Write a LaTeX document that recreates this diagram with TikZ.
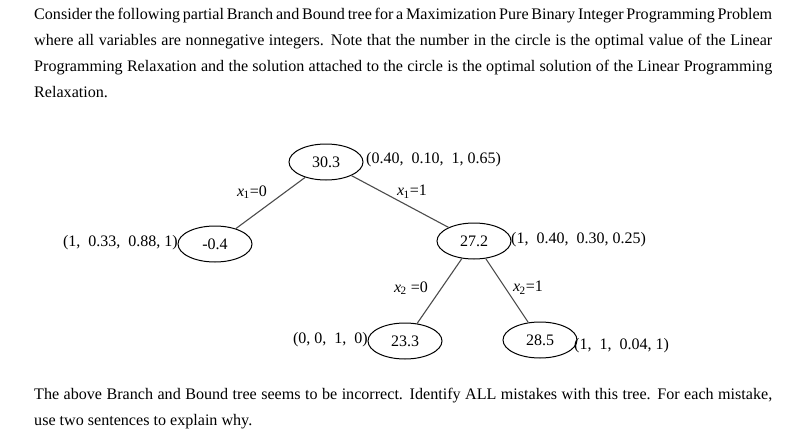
\documentclass[tikz,border=0pt]{standalone}
\usepackage{fontspec}
\setmainfont{Liberation Serif}
\usetikzlibrary{shapes.geometric}
\newcommand{\xv}[2]{\textit{x}\textsubscript{\kern-0.5pt#1}#2}
\begin{document}
\begin{tikzpicture}[x=1pt,y=-1pt,
  nd/.style={draw,ellipse,minimum width=74,minimum height=36,inner sep=0,font=\fontsize{16}{18}\selectfont,line width=1pt},
  lb/.style={font=\fontsize{16}{18}\selectfont,inner sep=0},
  ed/.style={line width=1.1pt,draw=black!70},
  para/.style={font=\fontsize{16.1}{26}\selectfont,text width=738,align=justify,inner sep=0,anchor=north west}]
\useasboundingbox[fill=white] (0,0) rectangle (803,436);
\node[para] (t1) at (34,8) {Consider the following partial Branch and Bound tree for a Maximization Pure Binary Integer Programming Problem where all variables are nonnegative integers. Note that the number in the circle is the optimal value of the Linear Programming Relaxation and the solution attached to the circle is the optimal solution of the Linear Programming Relaxation.};
\node[nd] (r) at (326,162) {30.3};
\node[nd] (a) at (215,244) {-0.4};
\node[nd] (b) at (474,241) {27.2};
\node[nd] (c) at (405,341) {23.3};
\node[nd] (d) at (540,340) {28.5};
\draw[ed] (r) -- (a);
\draw[ed] (r) -- (b);
\draw[ed] (b) -- (c);
\draw[ed] (b) -- (d);
\node[lb,anchor=west] (lr) at (366,160) {(0.40,\ \ 0.10,\ \ 1, 0.65)};
\node[lb,anchor=east] (la) at (178,243) {(1,\ \ 0.33,\ \ 0.88,\ 1)};
\node[lb,anchor=west] (lbb) at (511,240) {(1,\ \ 0.40,\ \ 0.30, 0.25)};
\node[lb,anchor=east] (lc) at (368,340) {(0,\ 0,\ \ 1,\ \ 0)};
\node[lb,anchor=west] (ld) at (574,346) {(1,\ \ 1,\ \ 0.04,\ 1)};
\node[lb] (e1) at (252,192) {\xv{1}{=0}};
\node[lb] (e2) at (412,192) {\xv{1}{=1}};
\node[lb] (e3) at (411,288) {\xv{2}{\ =0}};
\node[lb] (e4) at (528,288) {\xv{2}{=1}};
\node[para] (t2) at (34,388) {The above Branch and Bound tree seems to be incorrect. Identify ALL mistakes with this tree. For each mistake, use two sentences to explain why.};
\end{tikzpicture}
\end{document}
